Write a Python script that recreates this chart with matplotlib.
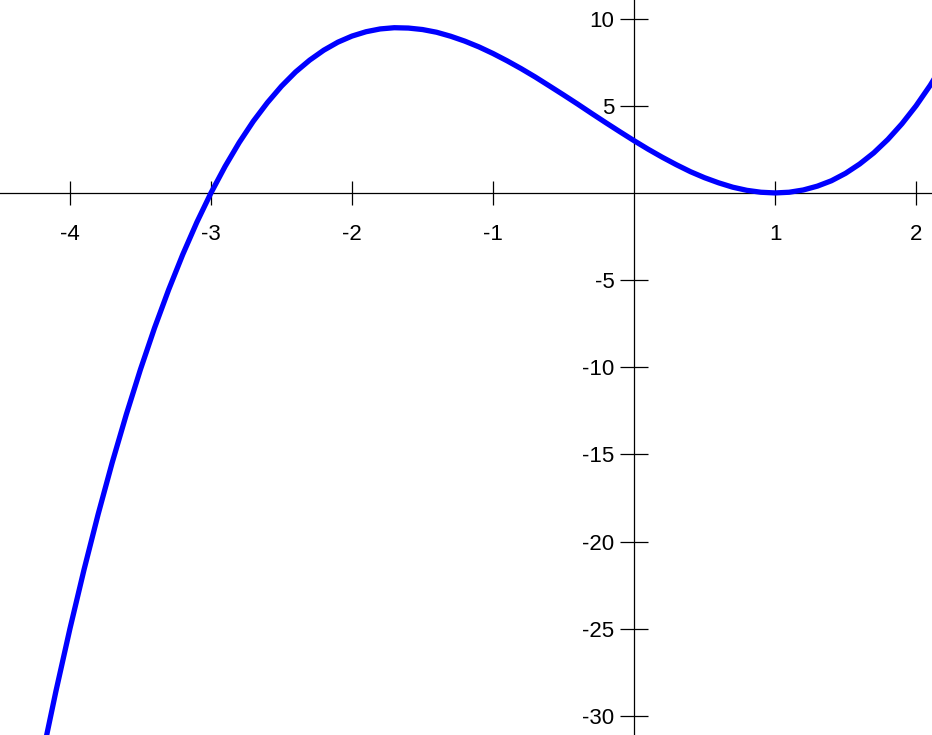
import matplotlib.pyplot as plt

# puntos (paso 0.1)
xs = [-4.2, -4.1, -4.0, -3.9, -3.8, -3.7, -3.6, -3.5, -3.4, -3.3, -3.2, -3.1,
      -3.0, -2.9, -2.8, -2.7, -2.6, -2.5, -2.4, -2.3, -2.2, -2.1,
      -2.0, -1.9, -1.8, -1.7, -1.6, -1.5, -1.4, -1.3, -1.2, -1.1,
      -1.0, -0.9, -0.8, -0.7, -0.6, -0.5, -0.4, -0.3, -0.2, -0.1,
      0.0, 0.1, 0.2, 0.3, 0.4, 0.5, 0.6, 0.7, 0.8, 0.9,
      1.0, 1.1, 1.2, 1.3, 1.4, 1.5, 1.6, 1.7, 1.8, 1.9,
      2.0, 2.1, 2.2]
ys = [-32.45, -28.61, -25.0, -21.61, -18.43, -15.46, -12.70, -10.125, -7.74, -5.55, -3.53, -1.68,
      0.0, 1.52, 2.89, 4.11, 5.18, 6.125, 6.94, 7.62, 8.19, 8.65,
      9.0, 9.25, 9.41, 9.48, 9.46, 9.375, 9.22, 8.99, 8.71, 8.38,
      8.0, 7.58, 7.13, 6.65, 6.14, 5.625, 5.10, 4.56, 4.03, 3.51,
      3.0, 2.51, 2.05, 1.62, 1.22, 0.875, 0.58, 0.33, 0.15, 0.04,
      0.0, 0.04, 0.17, 0.39, 0.70, 1.125, 1.66, 2.30, 3.07, 3.97,
      5.0, 6.17, 7.49]

x_ticks = [-4, -3, -2, -1, 1, 2]
y_ticks = [-30, -25, -20, -15, -10, -5, 5, 10]

plt.rcParams['font.family'] = ['Liberation Sans', 'DejaVu Sans']

fig = plt.figure(figsize=(9.32, 7.35), dpi=100)
ax = fig.add_axes([0, 0, 1, 1])

ax.plot(xs, ys, color="#0000ff", linewidth=3.8, solid_joinstyle="round", zorder=5)

ax.set_xlim(-4.496, 2.113)
ax.set_ylim(-31.1, 11.07)

# ejes en el origen
ax.spines["left"].set_position(("data", 0))
ax.spines["bottom"].set_position(("data", 0))
ax.spines["top"].set_visible(False)
ax.spines["right"].set_visible(False)
for s in ("left", "bottom"):
    ax.spines[s].set_linewidth(0.9)

ax.set_xticks(x_ticks)
ax.set_yticks(y_ticks)
ax.set_xticklabels([str(t) for t in x_ticks])
ax.set_yticklabels([str(t) for t in y_ticks])
ax.tick_params(axis="both", direction="inout", width=0.9, labelsize=16)
ax.tick_params(axis="x", length=17, pad=14)
ax.tick_params(axis="y", length=20, pad=4)

fig.savefig("out.png", dpi=100)
